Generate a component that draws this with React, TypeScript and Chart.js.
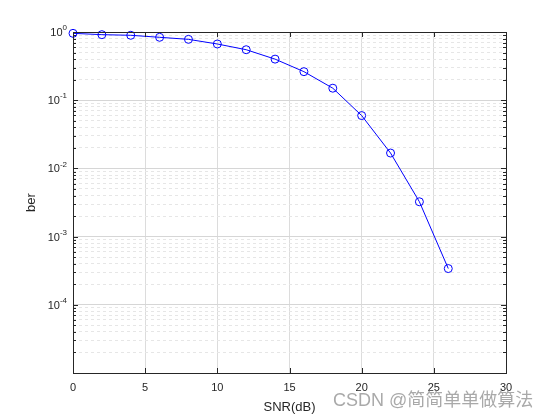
import React, { useEffect, useRef } from "react";
import { Chart, registerables } from "chart.js";

Chart.register(...registerables);

const snr = [0, 2, 4, 6, 8, 10, 12, 14, 16, 18, 20, 22, 24, 26];
const ber = [0.956, 0.914, 0.895, 0.836, 0.78, 0.667, 0.55, 0.40, 0.262, 0.150, 0.0595, 0.0168, 0.00324, 0.00034];
const xTicks = [0, 5, 10, 15, 20, 25, 30];
const yExponents = [0, -1, -2, -3, -4];
const xTitle = "SNR(dB)";
const yTitle = "ber";
const watermark = "CSDN @简简单单做算法";

const FONT = "'Liberation Sans', Arial, Helvetica, sans-serif";

function isMajor(v: number) {
  const l = Math.log10(v);
  return Math.abs(l - Math.round(l)) < 1e-6;
}

const decorPlugin = {
  id: "decor",
  afterDraw(chart: any) {
    const ctx = chart.ctx;
    const { left, right, top, bottom } = chart.chartArea;
    const xs = chart.scales.x;
    const ys = chart.scales.y;
    ctx.save();
    ctx.strokeStyle = "#262626";
    ctx.lineWidth = 1;
    ctx.beginPath();
    xTicks.forEach((t) => {
      const px = Math.round(xs.getPixelForValue(t)) + 0.5;
      ctx.moveTo(px, bottom);
      ctx.lineTo(px, bottom - 5);
      ctx.moveTo(px, top);
      ctx.lineTo(px, top + 5);
    });
    for (let e = -5; e <= 0; e++) {
      for (let k = 1; k <= 9; k++) {
        const v = k * Math.pow(10, e);
        if (v > 1 + 1e-9) break;
        const py = Math.round(ys.getPixelForValue(v)) + 0.5;
        const len = k === 1 ? 5 : 3;
        ctx.moveTo(left, py);
        ctx.lineTo(left + len, py);
        ctx.moveTo(right, py);
        ctx.lineTo(right - len, py);
      }
    }
    ctx.stroke();
    ctx.strokeRect(Math.round(left) + 0.5, Math.round(top) + 0.5, Math.round(right - left), Math.round(bottom - top));

    ctx.fillStyle = "#262626";
    ctx.font = `11px ${FONT}`;
    ctx.textAlign = "center";
    ctx.textBaseline = "middle";
    xTicks.forEach((t) => {
      ctx.fillText(String(t), xs.getPixelForValue(t), bottom + 15);
    });
    yExponents.forEach((e) => {
      const py = ys.getPixelForValue(Math.pow(10, e));
      const exp = String(e);
      ctx.font = `8px ${FONT}`;
      const ew = ctx.measureText(exp).width;
      ctx.font = `11px ${FONT}`;
      const bw = ctx.measureText("10").width;
      const xEnd = left - 6;
      ctx.textAlign = "left";
      ctx.textBaseline = "middle";
      ctx.fillText("10", xEnd - ew - bw, py + 1);
      ctx.font = `8px ${FONT}`;
      ctx.fillText(exp, xEnd - ew, py - 4);
    });
    ctx.font = `13px ${FONT}`;
    ctx.textAlign = "center";
    ctx.textBaseline = "middle";
    ctx.fillText(xTitle, (left + right) / 2, bottom + 34);
    ctx.save();
    ctx.translate(31, (top + bottom) / 2);
    ctx.rotate(-Math.PI / 2);
    ctx.fillText(yTitle, 0, 0);
    ctx.restore();
    ctx.font = `18px 'Liberation Sans', 'Noto Sans CJK SC', sans-serif`;
    ctx.textAlign = "left";
    ctx.fillStyle = "rgba(140,140,140,0.75)";
    ctx.fillText(watermark, 333, 401);
    ctx.restore();
  },
};

export default function App() {
  const ref = useRef<HTMLCanvasElement | null>(null);
  useEffect(() => {
    if (!ref.current) return;
    const chart = new Chart(ref.current, {
      type: "line",
      data: {
        labels: snr,
        datasets: [
          {
            data: snr.map((x, i) => ({ x, y: ber[i] })),
            borderColor: "#0000ff",
            borderWidth: 1,
            pointRadius: 4,
            pointBorderWidth: 1,
            pointBorderColor: "#0000ff",
            pointBackgroundColor: "rgba(0,0,0,0)",
            fill: false,
            tension: 0,
            clip: false,
          },
        ],
      },
      options: {
        animation: false,
        responsive: false,
        layout: { padding: { left: 73, right: 54, top: 32, bottom: 47 } },
        plugins: { legend: { display: false }, tooltip: { enabled: false } },
        scales: {
          x: {
            type: "linear",
            min: 0,
            max: 30,
            ticks: { display: false, stepSize: 5 },
            grid: { color: "#dcdcdc", lineWidth: 1, drawTicks: false },
            border: { display: false },
          },
          y: {
            type: "logarithmic",
            min: 1e-5,
            max: 1,
            afterBuildTicks: (scale: any) => {
              const t: any[] = [];
              for (let e = -5; e <= 0; e++) {
                for (let k = 1; k <= 9; k++) {
                  const v = k * Math.pow(10, e);
                  if (v > 1 + 1e-9) break;
                  t.push({ value: v });
                }
              }
              scale.ticks = t;
            },
            ticks: { display: false },
            grid: {
              drawTicks: false,
              color: (c: any) => (c.tick && isMajor(c.tick.value) ? "#d6d6d6" : "#e6e6e6"),
              lineWidth: 1,
            },
            border: {
              display: false,
              dash: (c: any) => (c.tick && isMajor(c.tick.value) ? [] : [3, 3]),
            },
          },
        },
      },
      plugins: [decorPlugin],
    });
    return () => chart.destroy();
  }, []);
  return (
    <div style={{ position: "fixed", left: 0, top: 0, width: 560, height: 420, background: "#fff" }}>
      <canvas ref={ref} width={560} height={420} style={{ width: 560, height: 420 }} />
    </div>
  );
}
